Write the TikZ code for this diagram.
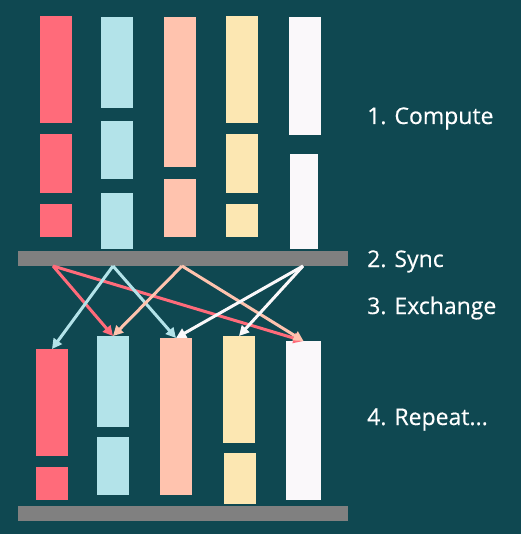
\documentclass[tikz,border=0pt]{standalone}
\usepackage{fontspec}
\setmainfont{Open Sans}
\newfontfamily\lblfont{Open Sans}[FakeBold=0.35]
\usetikzlibrary{arrows.meta}
\definecolor{bg}{RGB}{15,72,81}
\definecolor{cred}{RGB}{255,107,122}
\definecolor{cblue}{RGB}{179,227,233}
\definecolor{csalmon}{RGB}{255,195,174}
\definecolor{cyellow}{RGB}{252,231,178}
\definecolor{cwhite}{RGB}{250,248,250}
\definecolor{cbar}{RGB}{128,128,128}
\begin{document}
\begin{tikzpicture}[x=1pt,y=-1pt,
  blk/.style={rectangle,draw=none,inner sep=0pt,outer sep=0pt,anchor=north west},
  lbl/.style={anchor=base west,inner sep=0pt,text=white,font=\lblfont\fontsize{23}{26}\selectfont},
  arr/.style={line width=3pt,-{Triangle[length=10pt,width=10pt]}}]
\useasboundingbox[fill=bg] (0,0) rectangle (521,534);
% top row
\node[blk,fill=cred,minimum width=32pt,minimum height=107pt] (r1) at (40,16) {};
\node[blk,fill=cred,minimum width=32pt,minimum height=59pt] (r2) at (40,134) {};
\node[blk,fill=cred,minimum width=32pt,minimum height=33pt] (r3) at (40,204) {};
\node[blk,fill=cblue,minimum width=32pt,minimum height=91pt] (u1) at (101,17) {};
\node[blk,fill=cblue,minimum width=32pt,minimum height=58pt] (u2) at (101,121) {};
\node[blk,fill=cblue,minimum width=32pt,minimum height=56pt] (u3) at (101,193) {};
\node[blk,fill=csalmon,minimum width=32pt,minimum height=150pt] (p1) at (164,17) {};
\node[blk,fill=csalmon,minimum width=32pt,minimum height=58pt] (p2) at (164,179) {};
\node[blk,fill=cyellow,minimum width=32pt,minimum height=107pt] (y1) at (226,16) {};
\node[blk,fill=cyellow,minimum width=32pt,minimum height=59pt] (y2) at (226,134) {};
\node[blk,fill=cyellow,minimum width=32pt,minimum height=33pt] (y3) at (226,204) {};
\node[blk,fill=cwhite,minimum width=32pt,minimum height=118pt] (w1) at (289,17) {};
\node[blk,fill=cwhite,minimum width=28pt,minimum height=95pt] (w2) at (290,154) {};
\node[blk,fill=cbar,minimum width=330pt,minimum height=15pt] (bar1) at (18,251) {};
% bottom row
\node[blk,fill=cred,minimum width=32pt,minimum height=107pt] (br1) at (36,349) {};
\node[blk,fill=cred,minimum width=32pt,minimum height=33pt] (br2) at (36,467) {};
\node[blk,fill=cblue,minimum width=32pt,minimum height=91pt] (bu1) at (97,336) {};
\node[blk,fill=cblue,minimum width=32pt,minimum height=58pt] (bu2) at (97,437) {};
\node[blk,fill=csalmon,minimum width=32pt,minimum height=157pt] (bp1) at (160,338) {};
\node[blk,fill=cyellow,minimum width=32pt,minimum height=107pt] (by1) at (223,336) {};
\node[blk,fill=cyellow,minimum width=32pt,minimum height=51pt] (by2) at (224,453) {};
\node[blk,fill=cwhite,minimum width=35pt,minimum height=159pt] (bw1) at (286,341) {};
\node[blk,fill=cbar,minimum width=330pt,minimum height=15pt] (bar2) at (18,506) {};
% sources on the sync bar
\coordinate (sr) at (53,266);
\coordinate (su) at (113,266);
\coordinate (sp) at (182,266);
\coordinate (sw) at (303,266);
% exchange arrows
\draw[arr,cred] (sr) -- (bu1.north);
\draw[arr,cred] (sr) -- (bw1.north);
\draw[arr,cblue] (su) -- (br1.north);
\draw[arr,cblue] (su) -- (bp1.north);
\draw[arr,csalmon] (sp) -- (bu1.north);
\draw[arr,csalmon] (sp) -- (bw1.north);
\draw[arr,cwhite] (sw) -- (bp1.north);
\draw[arr,cwhite] (sw) -- (by1.north);
% labels
\node[lbl] (l1) at (367,124) {1. Compute};
\node[lbl] (l2) at (367,267) {2. Sync};
\node[lbl] (l3) at (367,314) {3. Exchange};
\node[lbl] (l4) at (367,425) {4. Repeat...};
\end{tikzpicture}
\end{document}
